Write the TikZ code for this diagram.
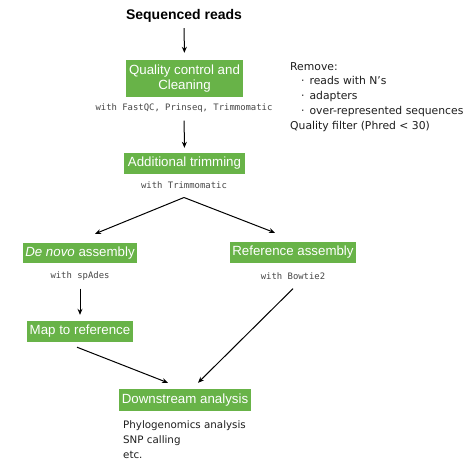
\documentclass[tikz,border=0pt]{standalone}
\usepackage{fontspec}
\setmainfont{Liberation Sans}
\newfontfamily\dejavu{DejaVu Sans}
\setmonofont{DejaVu Sans Mono}
\usetikzlibrary{arrows.meta}
\definecolor{boxgreen}{RGB}{104,179,72}
\definecolor{monogray}{RGB}{70,70,70}
\definecolor{txtdark}{RGB}{30,30,30}
\begin{document}
\begin{tikzpicture}[x=1pt,y=-1pt,
 gbox/.style={fill=boxgreen, text=white, font=\fontsize{13.3}{15}\selectfont, inner sep=0pt, align=center},
 tool/.style={font=\ttfamily\fontsize{8.9}{10}\selectfont, text=monogray, inner sep=0pt},
 note/.style={font=\dejavu\fontsize{10.8}{14.8}\selectfont, text=txtdark, inner sep=0pt, align=left},
 arr/.style={-{Stealth[length=6pt,width=5pt]}, line width=1pt},
 ]
\useasboundingbox[fill=white] (0,0) rectangle (474,476);
\node[font=\bfseries\fontsize{14}{16}\selectfont, inner sep=0pt] (title) at (184,15.5) {Sequenced reads};
\node[gbox, minimum width=117pt, minimum height=37pt] (qc) at (184.5,78.5) {Quality control and\\Cleaning};
\node[tool] (qcw) at (184,108) {with FastQC, Prinseq, Trimmomatic};
\node[gbox, minimum width=121pt, minimum height=21pt] (at) at (184.5,163.5) {Additional trimming};
\node[tool] (atw) at (184,185) {with Trimmomatic};
\node[gbox, minimum width=114pt, minimum height=20pt] (dn) at (80,253) {\textit{De novo} assembly};
\node[tool] (dnw) at (80,276) {with spAdes};
\node[gbox, minimum width=106pt, minimum height=21pt] (mr) at (80,331.5) {Map to reference};
\node[gbox, minimum width=126pt, minimum height=21pt] (ra) at (293,252.5) {Reference assembly};
\node[tool] (raw) at (293,276) {with Bowtie2};
\node[gbox, minimum width=132pt, minimum height=22pt] (ds) at (185,400) {Downstream analysis};
\node[note, font=\dejavu\fontsize{10.3}{15}\selectfont, anchor=north west] (down) at (123,420) {Phylogenomics analysis\\SNP calling\\etc.};
\node[note, anchor=north west] (remove) at (290,62) {Remove:\\\hspace*{11pt}·\hspace*{5pt}reads with N’s\\\hspace*{11pt}·\hspace*{5pt}adapters\\\hspace*{11pt}·\hspace*{5pt}over-represented sequences\\Quality filter (Phred < 30)};
\coordinate (split) at (184,197.5);
\draw[arr, shorten <=6pt, shorten >=7pt] (title.south) -- (qc.north);
\draw[arr, shorten <=8pt, shorten >=5pt] (qcw.south) -- (at.north);
\draw[arr] (split) -- ([xshift=15pt,yshift=9pt]dn.north);
\draw[arr] (split) -- ([xshift=-18pt,yshift=9pt]ra.north);
\draw[arr, shorten <=8pt, shorten >=6pt] (dnw.south) -- (mr.north);
\draw[arr] ([xshift=-3pt,yshift=-5pt]mr.south) -- ([xshift=-17pt,yshift=6pt]ds.north);
\draw[arr] ([yshift=-9pt]raw.south) -- ([xshift=13pt,yshift=6pt]ds.north);
\end{tikzpicture}
\end{document}
